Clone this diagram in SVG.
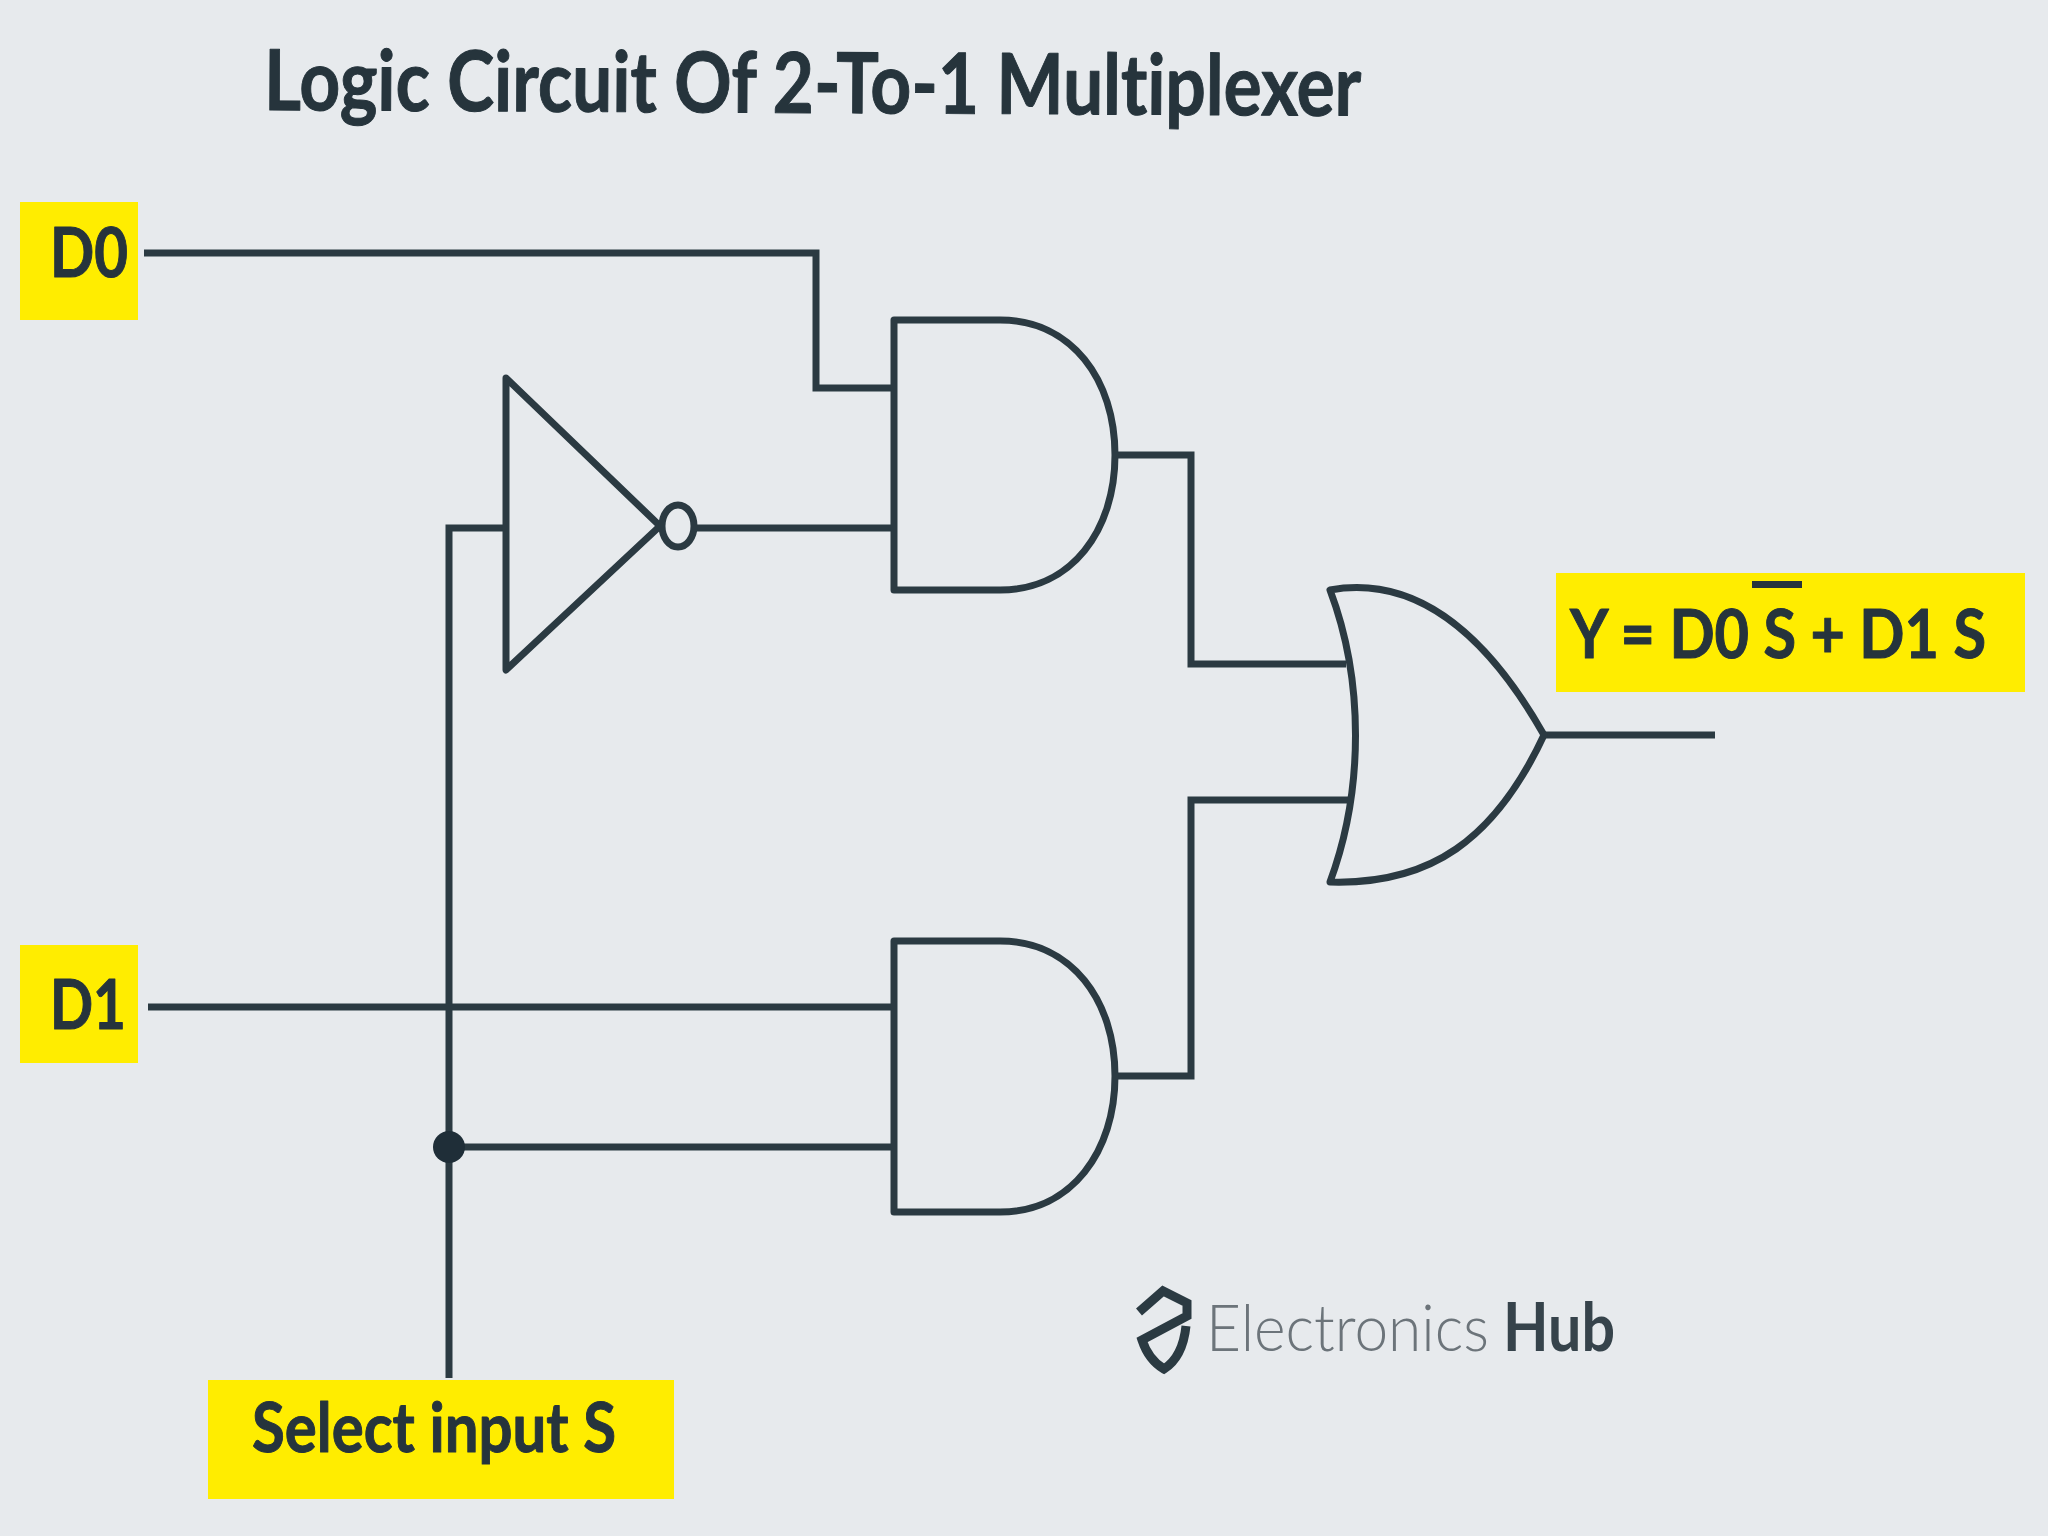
<svg xmlns="http://www.w3.org/2000/svg" width="2048" height="1536" viewBox="0 0 2048 1536">
<style>
.w{fill:none;stroke:#2b3a42;stroke-width:7;stroke-linejoin:miter}
.g{fill:none;stroke:#2b3a42;stroke-width:7;stroke-linejoin:round}
.y{fill:#ffed00}
.t{font-family:Lato,"Liberation Sans",sans-serif;font-weight:700;fill:#26343c;stroke:#26343c;stroke-width:1;stroke-linejoin:round;font-variant-ligatures:none}
.l{font-family:Lato,sans-serif;font-size:66px;font-variant-ligatures:none}
</style>
<rect width="2048" height="1536" fill="#e7eaed"/>
<text id="title" class="t" x="264" y="110" font-size="84" textLength="1097" lengthAdjust="spacingAndGlyphs" transform="rotate(0.3 264 110)">Logic Circuit Of 2-To-1 Multiplexer</text>
<g id="connectors">
<path class="w" d="M144 253H816V388H894"/>
<path class="w" d="M696 528H894"/>
<path class="w" d="M449 1378V528H509"/>
<path class="w" d="M148 1007H894"/>
<path class="w" d="M449 1147H894"/>
<path class="w" d="M1115 455H1191V664H1346"/>
<path class="w" d="M1115 1076H1191V800H1348"/>
<path class="w" d="M1544 735H1715"/>
<circle cx="449" cy="1147" r="16" fill="#1f2e38"/>
</g>
<g id="d0"><rect class="y" x="20" y="202" width="118" height="118"/><text class="t" x="50" y="277" font-size="68" textLength="78" lengthAdjust="spacingAndGlyphs">D0</text></g>
<g id="d1"><rect class="y" x="20" y="945" width="118" height="118"/><text class="t" x="50" y="1029" font-size="68" textLength="76" lengthAdjust="spacingAndGlyphs">D1</text></g>
<g id="select"><rect class="y" x="208" y="1380" width="466" height="119"/><text class="t" x="252" y="1452" font-size="68" textLength="364" lengthAdjust="spacingAndGlyphs">Select input S</text></g>
<g id="output"><rect class="y" x="1556" y="573" width="469" height="119"/><text class="t" x="1570" y="658" font-size="66" textLength="416" lengthAdjust="spacingAndGlyphs" xml:space="preserve">Y = D0 S + D1 S</text><rect x="1752" y="581" width="50" height="7" fill="#26343c"/></g>
<g id="and1"><path class="g" d="M894 320H1000C1072 320 1115 380 1115 455C1115 530 1072 590 1000 590H894Z"/></g>
<g id="and2"><path class="g" d="M894 941H1000C1072 941 1115 1001 1115 1076C1115 1151 1072 1212 1000 1212H894Z"/></g>
<g id="not"><path class="g" d="M506 378L660 526L506 670Z"/><ellipse class="g" cx="678" cy="526" rx="16" ry="21"/></g>
<g id="or"><path class="g" d="M1330 590C1420 574 1490 640 1544 735C1495 840 1430 885 1330 882C1364 790 1364 680 1330 590Z"/></g>
<g id="logo">
<path d="M1139 1312L1163 1291L1187 1303V1316L1142 1340C1146 1352 1152 1362 1164 1369C1178 1360 1184 1345 1186 1326" fill="none" stroke="#2b3a42" stroke-width="9"/>
<text class="l" x="1206" y="1351" font-weight="300" fill="#6c747a" textLength="283" lengthAdjust="spacingAndGlyphs">Electronics</text>
<text class="l" x="1503" y="1351" font-weight="700" fill="#36434b" textLength="112" lengthAdjust="spacingAndGlyphs">Hub</text>
</g>
</svg>
